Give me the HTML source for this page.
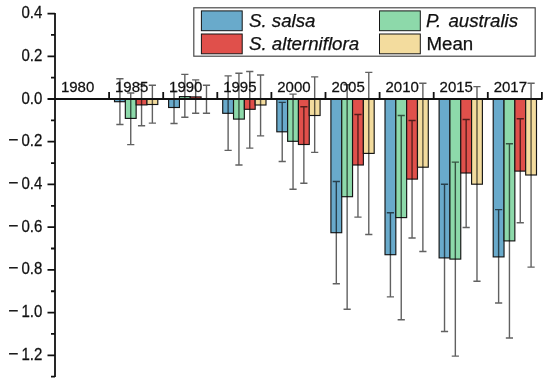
<!DOCTYPE html><html><head><meta charset="utf-8"><style>html,body{margin:0;padding:0;background:#fff;}svg{display:block;}text{font-family:"Liberation Sans",Arial,sans-serif;fill:#111;stroke:#111;stroke-width:0.25px;}</style></head><body>
<svg width="550" height="385" viewBox="0 0 550 385">
<rect x="0" y="0" width="550" height="385" fill="#fff"/>
<g><rect x="114.51" y="99.00" width="10.82" height="2.70" fill="#69aacb" stroke="#151515" stroke-width="1.15"/><rect x="125.33" y="99.00" width="10.82" height="19.40" fill="#8dd9aa" stroke="#151515" stroke-width="1.15"/><rect x="136.15" y="99.00" width="10.82" height="5.90" fill="#e0504b" stroke="#151515" stroke-width="1.15"/><rect x="146.97" y="99.00" width="10.82" height="5.50" fill="#f3dc9e" stroke="#151515" stroke-width="1.15"/><rect x="168.61" y="99.00" width="10.82" height="8.50" fill="#69aacb" stroke="#151515" stroke-width="1.15"/><rect x="179.43" y="96.60" width="10.82" height="2.40" fill="#8dd9aa" stroke="#151515" stroke-width="1.15"/><rect x="190.25" y="96.90" width="10.82" height="2.10" fill="#e0504b" stroke="#151515" stroke-width="1.15"/><rect x="201.07" y="99.00" width="10.82" height="0.30" fill="#f3dc9e" stroke="#151515" stroke-width="1.15"/><rect x="222.71" y="99.00" width="10.82" height="14.30" fill="#69aacb" stroke="#151515" stroke-width="1.15"/><rect x="233.53" y="99.00" width="10.82" height="20.10" fill="#8dd9aa" stroke="#151515" stroke-width="1.15"/><rect x="244.35" y="99.00" width="10.82" height="10.30" fill="#e0504b" stroke="#151515" stroke-width="1.15"/><rect x="255.17" y="99.00" width="10.82" height="6.00" fill="#f3dc9e" stroke="#151515" stroke-width="1.15"/><rect x="276.81" y="99.00" width="10.82" height="32.80" fill="#69aacb" stroke="#151515" stroke-width="1.15"/><rect x="287.63" y="99.00" width="10.82" height="42.30" fill="#8dd9aa" stroke="#151515" stroke-width="1.15"/><rect x="298.45" y="99.00" width="10.82" height="45.50" fill="#e0504b" stroke="#151515" stroke-width="1.15"/><rect x="309.27" y="99.00" width="10.82" height="16.50" fill="#f3dc9e" stroke="#151515" stroke-width="1.15"/><rect x="330.91" y="99.00" width="10.82" height="133.70" fill="#69aacb" stroke="#151515" stroke-width="1.15"/><rect x="341.73" y="99.00" width="10.82" height="97.70" fill="#8dd9aa" stroke="#151515" stroke-width="1.15"/><rect x="352.55" y="99.00" width="10.82" height="66.00" fill="#e0504b" stroke="#151515" stroke-width="1.15"/><rect x="363.37" y="99.00" width="10.82" height="54.40" fill="#f3dc9e" stroke="#151515" stroke-width="1.15"/><rect x="385.01" y="99.00" width="10.82" height="155.70" fill="#69aacb" stroke="#151515" stroke-width="1.15"/><rect x="395.83" y="99.00" width="10.82" height="118.60" fill="#8dd9aa" stroke="#151515" stroke-width="1.15"/><rect x="406.65" y="99.00" width="10.82" height="80.10" fill="#e0504b" stroke="#151515" stroke-width="1.15"/><rect x="417.47" y="99.00" width="10.82" height="68.20" fill="#f3dc9e" stroke="#151515" stroke-width="1.15"/><rect x="439.11" y="99.00" width="10.82" height="158.90" fill="#69aacb" stroke="#151515" stroke-width="1.15"/><rect x="449.93" y="99.00" width="10.82" height="160.10" fill="#8dd9aa" stroke="#151515" stroke-width="1.15"/><rect x="460.75" y="99.00" width="10.82" height="74.00" fill="#e0504b" stroke="#151515" stroke-width="1.15"/><rect x="471.57" y="99.00" width="10.82" height="85.20" fill="#f3dc9e" stroke="#151515" stroke-width="1.15"/><rect x="493.21" y="99.00" width="10.82" height="157.90" fill="#69aacb" stroke="#151515" stroke-width="1.15"/><rect x="504.03" y="99.00" width="10.82" height="141.90" fill="#8dd9aa" stroke="#151515" stroke-width="1.15"/><rect x="514.85" y="99.00" width="10.82" height="72.10" fill="#e0504b" stroke="#151515" stroke-width="1.15"/><rect x="525.67" y="99.00" width="10.82" height="76.00" fill="#f3dc9e" stroke="#151515" stroke-width="1.15"/></g>
<g fill="none" stroke="#000" stroke-opacity="0.62" stroke-width="1.4"><path d="M119.92 78.70V124.50M116.32 78.70H123.52M116.32 124.50H123.52"/><path d="M130.74 93.00V144.60M127.14 93.00H134.34M127.14 144.60H134.34"/><path d="M141.56 84.30V125.70M137.96 84.30H145.16M137.96 125.70H145.16"/><path d="M152.38 85.30V123.10M148.78 85.30H155.98M148.78 123.10H155.98"/><path d="M174.02 91.50V123.50M170.42 91.50H177.62M170.42 123.50H177.62"/><path d="M184.84 74.40V117.30M181.24 74.40H188.44M181.24 117.30H188.44"/><path d="M195.66 79.90V113.30M192.06 79.90H199.26M192.06 113.30H199.26"/><path d="M206.48 85.30V113.30M202.88 85.30H210.08M202.88 113.30H210.08"/><path d="M228.12 75.90V150.40M224.52 75.90H231.72M224.52 150.40H231.72"/><path d="M238.94 73.30V165.00M235.34 73.30H242.54M235.34 165.00H242.54"/><path d="M249.76 71.50V148.10M246.16 71.50H253.36M246.16 148.10H253.36"/><path d="M260.58 75.00V135.90M256.98 75.00H264.18M256.98 135.90H264.18"/><path d="M282.22 102.40V161.50M278.62 102.40H285.82M278.62 161.50H285.82"/><path d="M293.04 94.10V189.30M289.44 94.10H296.64M289.44 189.30H296.64"/><path d="M303.86 106.70V183.20M300.26 106.70H307.46M300.26 183.20H307.46"/><path d="M314.68 76.90V152.40M311.08 76.90H318.28M311.08 152.40H318.28"/><path d="M336.32 181.50V283.70M332.72 181.50H339.92M332.72 283.70H339.92"/><path d="M347.14 84.70V309.20M343.54 84.70H350.74M343.54 309.20H350.74"/><path d="M357.96 114.50V217.10M354.36 114.50H361.56M354.36 217.10H361.56"/><path d="M368.78 72.40V234.50M365.18 72.40H372.38M365.18 234.50H372.38"/><path d="M390.42 212.80V296.90M386.82 212.80H394.02M386.82 296.90H394.02"/><path d="M401.24 115.50V319.70M397.64 115.50H404.84M397.64 319.70H404.84"/><path d="M412.06 120.50V238.00M408.46 120.50H415.66M408.46 238.00H415.66"/><path d="M422.88 83.30V251.50M419.28 83.30H426.48M419.28 251.50H426.48"/><path d="M444.52 184.20V331.50M440.92 184.20H448.12M440.92 331.50H448.12"/><path d="M455.34 162.10V356.10M451.74 162.10H458.94M451.74 356.10H458.94"/><path d="M466.16 119.50V227.50M462.56 119.50H469.76M462.56 227.50H469.76"/><path d="M476.98 86.60V281.20M473.38 86.60H480.58M473.38 281.20H480.58"/><path d="M498.62 209.60V303.00M495.02 209.60H502.22M495.02 303.00H502.22"/><path d="M509.44 143.70V338.00M505.84 143.70H513.04M505.84 338.00H513.04"/><path d="M520.26 118.70V222.70M516.66 118.70H523.86M516.66 222.70H523.86"/><path d="M531.08 83.30V267.10M527.48 83.30H534.68M527.48 267.10H534.68"/></g>
<text transform="translate(77.55 91.6) scale(1 1.03)" font-size="15" text-anchor="middle">1980</text>
<text transform="translate(131.65 91.6) scale(1 1.03)" font-size="15" text-anchor="middle">1985</text>
<text transform="translate(185.75 91.6) scale(1 1.03)" font-size="15" text-anchor="middle">1990</text>
<text transform="translate(239.85 91.6) scale(1 1.03)" font-size="15" text-anchor="middle">1995</text>
<text transform="translate(293.95 91.6) scale(1 1.03)" font-size="15" text-anchor="middle">2000</text>
<text transform="translate(348.05 91.6) scale(1 1.03)" font-size="15" text-anchor="middle">2005</text>
<text transform="translate(402.15 91.6) scale(1 1.03)" font-size="15" text-anchor="middle">2010</text>
<text transform="translate(456.25 91.6) scale(1 1.03)" font-size="15" text-anchor="middle">2015</text>
<text transform="translate(510.35 91.6) scale(1 1.03)" font-size="15" text-anchor="middle">2017</text>
<path d="M55 13V377M55 99H542.5M109.10 99V92M163.20 99V92M217.30 99V92M271.40 99V92M325.50 99V92M379.60 99V92M433.70 99V92M487.80 99V92M541.90 99V92M51 376.68H55M47.5 355.32H55M51 333.96H55M47.5 312.60H55M51 291.24H55M47.5 269.88H55M51 248.52H55M47.5 227.16H55M51 205.80H55M47.5 184.44H55M51 163.08H55M47.5 141.72H55M51 120.36H55M47.5 99.00H55M51 77.64H55M47.5 56.28H55M51 34.92H55M47.5 13.56H55" fill="none" stroke="#111" stroke-width="1.8"/>
<text transform="translate(42.3 359.92) scale(1 1.05)" font-size="15" text-anchor="end"><tspan font-size="17.5">−</tspan> 1.2</text>
<text transform="translate(42.3 317.20) scale(1 1.05)" font-size="15" text-anchor="end"><tspan font-size="17.5">−</tspan> 1.0</text>
<text transform="translate(42.3 274.48) scale(1 1.05)" font-size="15" text-anchor="end"><tspan font-size="17.5">−</tspan> 0.8</text>
<text transform="translate(42.3 231.76) scale(1 1.05)" font-size="15" text-anchor="end"><tspan font-size="17.5">−</tspan> 0.6</text>
<text transform="translate(42.3 189.04) scale(1 1.05)" font-size="15" text-anchor="end"><tspan font-size="17.5">−</tspan> 0.4</text>
<text transform="translate(42.3 146.32) scale(1 1.05)" font-size="15" text-anchor="end"><tspan font-size="17.5">−</tspan> 0.2</text>
<text transform="translate(42.3 103.60) scale(1 1.05)" font-size="15" text-anchor="end">0.0</text>
<text transform="translate(42.3 60.88) scale(1 1.05)" font-size="15" text-anchor="end">0.2</text>
<text transform="translate(42.3 18.16) scale(1 1.05)" font-size="15" text-anchor="end">0.4</text>
<rect x="193.8" y="7.8" width="341.4" height="48.4" fill="#fff" stroke="#4a4a4a" stroke-width="1.2"/>
<rect x="201.4" y="10.9" width="40.8" height="19.8" fill="#69aacb" stroke="#151515" stroke-width="1"/>
<rect x="201.4" y="34.0" width="40.8" height="19.8" fill="#e0504b" stroke="#151515" stroke-width="1"/>
<rect x="379.5" y="10.9" width="40.8" height="19.8" fill="#8dd9aa" stroke="#151515" stroke-width="1"/>
<rect x="379.5" y="34.0" width="40.8" height="19.8" fill="#f3dc9e" stroke="#151515" stroke-width="1"/>
<text x="249" y="27.1" font-size="18.7" font-style="italic">S. salsa</text>
<text x="249" y="49.6" font-size="18.7" font-style="italic">S. alterniflora</text>
<text x="426" y="27.1" font-size="18.7" font-style="italic">P. <tspan dx="2">australis</tspan></text>
<text x="426.5" y="49.6" font-size="18.7">Mean</text>
</svg></body></html>
